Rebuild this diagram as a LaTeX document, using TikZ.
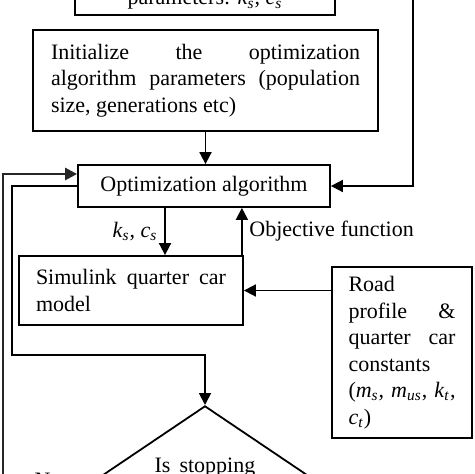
\documentclass[tikz,border=0pt]{standalone}
\usepackage{fontspec}
\setmainfont{Liberation Serif}
\usetikzlibrary{arrows.meta,positioning,shapes.geometric}
\hyphenpenalty=10000
\exhyphenpenalty=10000
\tolerance=10000
% italic symbol with italic subscript, in the text font
\newcommand{\sym}[2]{\textit{#1}\textsubscript{\textit{#2}}}

\begin{document}
\begin{tikzpicture}[
    x=0.5pt, y=-0.5pt,
    font=\fontsize{11}{13.25}\selectfont,
    box/.style={draw, line width=0.9pt, inner sep=0pt},
    jtext/.style={align=justify},
    arr/.style={-{Triangle[length=6pt,width=6pt]}, line width=0.9pt},
    outer/.style={line width=1.3pt, draw=black!85},
    decision/.style={draw, diamond, line width=0.9pt, inner sep=0pt},
  ]
  \useasboundingbox (0,0) rectangle (474,474);
  \clip (0,0) rectangle (474,474);

  % Boxes
  \node[box, minimum width=130pt, text height=25pt, text depth=5pt, anchor=base]
    (range) at (205,5) {parameters: \sym{k}{s}, \sym{c}{s}};
  \node[box, jtext, text width=154.5pt, minimum width=172.5pt, minimum height=50.5pt]
    (init) at (205.5,80.5)
    {Initialize the optimization algorithm parameters (population size, generations etc)};
  \node[box, minimum width=126pt, minimum height=21pt] (opt) at (204,186)
    {Optimization algorithm};
  \node[box, jtext, text width=95pt, minimum width=112pt, minimum height=34.5pt]
    (sim) at (131,290.5) {Simulink quarter car model};
  \node[box, jtext, text width=53.5pt, minimum width=70pt, minimum height=85.5pt]
    (road) at (402,352.5)
    {Road\linebreak profile \&\linebreak quarter car\linebreak constants\linebreak
     (\sym{m}{s}, \sym{m}{us}, \sym{k}{t},\linebreak \sym{c}{t})};

  % Decision
  \node[decision, minimum width=163pt, minimum height=110pt, anchor=north]
    (stop) at (205,405) {};
  \node[anchor=base] (stoptxt) at (205,472) {Is\hspace{4.5pt}stopping};
  \node[anchor=base] (nolbl) at (48,487) {No};

  % Connectors
  \coordinate (fbtop) at (413,-20);
  \coordinate (nobot) at (3,500);
  \draw[arr] (init.south) -- (init.south |- opt.north);
  \draw[arr] (fbtop) |- (opt.east);
  \draw[arr] ([xshift=-19.5pt]opt.south) -- ([xshift=-19.5pt]opt.south |- sim.north)
    node[midway, left] {\sym{k}{s}, \sym{c}{s}};
  \draw[arr] ([xshift=-1pt]sim.north east) -- ([xshift=-1pt]sim.north east |- opt.south)
    node[midway, right] {Objective function};
  \draw[arr] (road.west |- sim.east) -- (sim.east);
  \draw[arr] (opt.west) -| (12,355) -| (stop.north);
  \draw[arr, outer] (nobot) |- ([yshift=6pt]opt.west);
\end{tikzpicture}
\end{document}
